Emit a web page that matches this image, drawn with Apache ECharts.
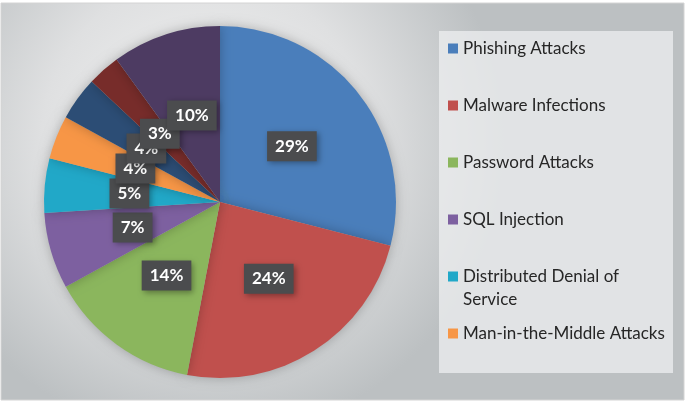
<!DOCTYPE html>
<html>
<head>
<meta charset="utf-8">
<script src="https://cdn.jsdelivr.net/npm/echarts@6/dist/echarts.min.js"></script>
<style>
  html, body { margin: 0; padding: 0; background: #fff; }
  #main { width: 685px; height: 404px; }
</style>
</head>
<body>
<div id="main"></div>
<script>
var chartDom = document.getElementById('main');
var myChart = echarts.init(chartDom);
var option;

// slices, clockwise from 12 o'clock
const categories = [
  'Phishing Attacks',
  'Malware Infections',
  'Password Attacks',
  'SQL Injection',
  'Distributed Denial of Service',
  'Man-in-the-Middle Attacks',
  'Insider Threats',
  'Zero-Day Exploits',
  'Others'
];
const shares = [29, 24, 14, 7, 5, 4, 4, 3, 10];
const sliceColors = [
  '#4a7ebb', '#c0504d', '#8bb65d', '#7d60a0', '#21a8c8',
  '#f79646', '#2c4d75', '#772c2a', '#4d3b62'
];
// only the first six names fit in the legend box
const legendNames = categories.slice(0, 6);
const legendTops = [32, 89, 146, 203, 237, 317];

const labelStyle = {
  show: true,
  position: 'inside',
  formatter: '{c}%',
  color: '#fff',
  fontFamily: 'Lato',
  fontWeight: 'bold',
  fontSize: 17,
  backgroundColor: '#4b4c4e',
  padding: [7, 8, 6, 8],
  shadowBlur: 6,
  shadowOffsetX: 2,
  shadowOffsetY: 2,
  shadowColor: 'rgba(0,0,0,0.35)'
};

option = {
  color: sliceColors,
  animation: false,
  graphic: [
    {
      type: 'rect',
      z: -10,
      shape: { x: 1, y: 3, width: 683, height: 397 },
      style: {
        fill: {
          type: 'radial',
          x: 0.3,
          y: 0.35,
          r: 0.75,
          colorStops: [
            { offset: 0, color: '#f4f4f4' },
            { offset: 0.55, color: '#dfe0e1' },
            { offset: 1, color: '#bcc0c2' }
          ]
        },
        stroke: '#d4d4d4',
        lineWidth: 1
      }
    },
    {
      type: 'rect',
      z: -9,
      shape: { x: 439, y: 31, width: 234, height: 342 },
      style: { fill: 'rgba(238,239,240,0.75)' }
    }
  ],
  legend: legendNames.map(function (name, i) {
    return {
      data: [name],
      orient: 'vertical',
      left: 443,
      top: legendTops[i],
      icon: 'rect',
      itemWidth: 10,
      itemHeight: 10,
      itemGap: 0,
      selectedMode: false,
      formatter: function (n) {
        // blank first line keeps the icon beside "Distributed"
        return n === 'Distributed Denial of Service'
          ? ' \nDistributed Denial of\nService'
          : n;
      },
      textStyle: {
        fontFamily: 'Lato',
        fontSize: 17,
        color: '#262626',
        lineHeight: 23
      }
    };
  }),
  series: [
    {
      name: 'Attacks',
      type: 'pie',
      center: [220, 202],
      radius: [0, 176],
      startAngle: 90,
      clockwise: true,
      avoidLabelOverlap: false,
      labelLayout: { hideOverlap: false },
      itemStyle: {
        shadowBlur: 12,
        shadowColor: 'rgba(0,0,0,0.25)'
      },
      label: labelStyle,
      labelLine: { show: false },
      emphasis: { disabled: true },
      data: categories.map(function (name, i) {
        return { name: name, value: shares[i] };
      })
    }
  ]
};

option && myChart.setOption(option);
</script>
</body>
</html>
